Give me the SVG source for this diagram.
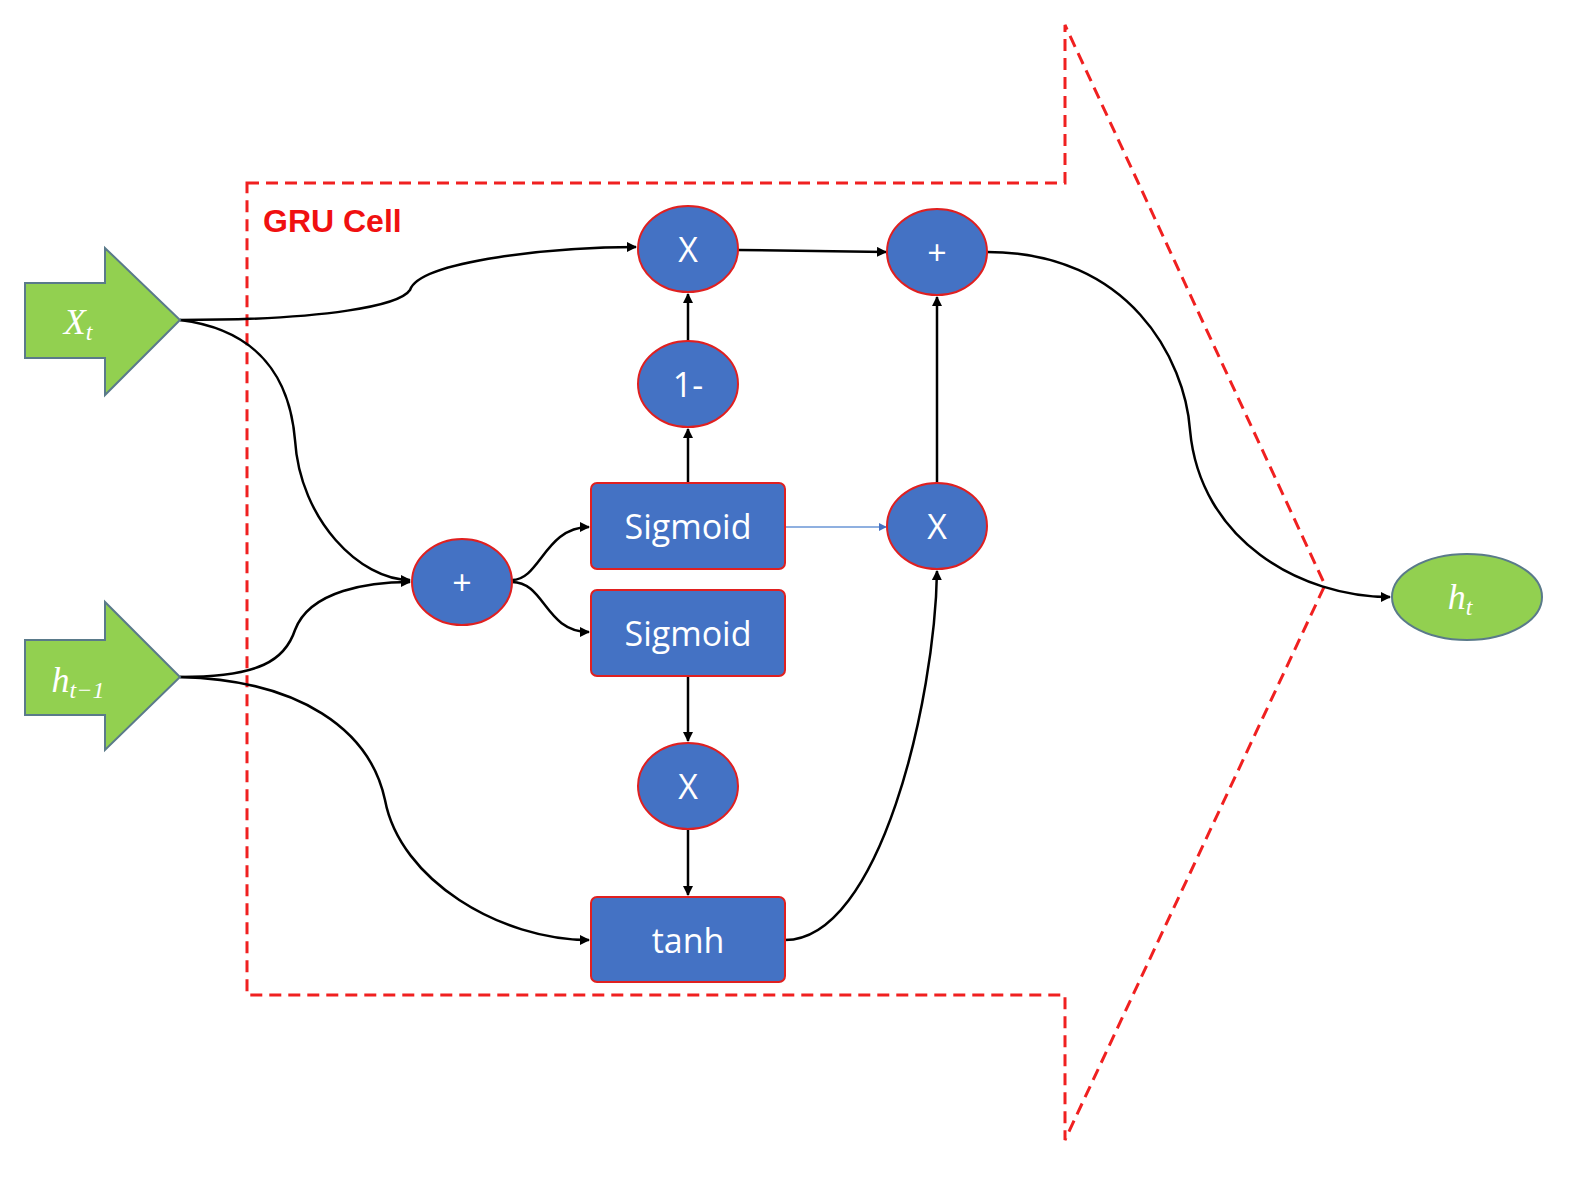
<svg xmlns="http://www.w3.org/2000/svg" width="1588" height="1178" viewBox="0 0 1588 1178">
<style>
.n{fill:#4472C4;stroke:#e02020;stroke-width:2}
.g{fill:#92D050;stroke:#5a7a8a;stroke-width:2}
.t{fill:#fff;font-family:"Open Sans","DejaVu Sans",sans-serif;font-size:34px;text-anchor:middle;dominant-baseline:central}
.m{fill:#fff;font-family:"Liberation Serif",serif;font-style:italic;font-size:36px;text-anchor:middle;dominant-baseline:central}
.c{fill:none;stroke:#000;stroke-width:2.5;marker-end:url(#a)}
</style>
<defs><marker id="a" viewBox="0 0 10 10" refX="9" refY="5" markerWidth="4" markerHeight="4" orient="auto"><path d="M0,0L10,5L0,10z" fill="#000"/></marker>
<marker id="b" viewBox="0 0 10 10" refX="9" refY="5" markerWidth="4" markerHeight="4" orient="auto"><path d="M0,0L10,5L0,10z" fill="#4472C4"/></marker></defs>
<rect width="1588" height="1178" fill="#fff"/>
<g id="boundary"><path d="M247,183H1065V25L1325,585L1065,1140V995H247Z" fill="none" stroke="#f02020" stroke-width="3" stroke-dasharray="12,7"/>
<text x="263" y="232" font-family="Liberation Sans,Arial,sans-serif" font-weight="bold" font-size="32" fill="#f01010">GRU Cell</text></g>
<g id="connectors">
<path class="c" d="M180,320C330,320 400,305 410,290C420,260 560,247 636,247"/>
<path class="c" d="M180,320C260,330 290,380 295,440C300,520 360,580 410,580"/>
<path class="c" d="M180,677C260,677 285,660 295,630C310,590 370,582 410,582"/>
<path class="c" d="M180,677C300,680 370,730 385,800C400,880 500,940 589,940"/>
<path class="c" d="M512,580C540,580 545,527 589,527"/>
<path class="c" d="M512,582C545,582 545,632 589,632"/>
<path class="c" d="M688,483V429"/>
<path class="c" d="M688,341V294"/>
<path class="c" d="M738,250L886,252"/>
<path class="c" d="M937,483V297"/>
<path d="M785,527H886" fill="none" stroke="#8fb0e0" stroke-width="2" marker-end="url(#b)"/>
<path class="c" d="M688,676V741"/>
<path class="c" d="M688,829V895"/>
<path class="c" d="M785,940C880,940 935,700 937,571"/>
<path class="c" d="M987,252C1130,252 1185,360 1190,430C1200,540 1300,597 1390,597"/>
</g>
<g id="xt"><path class="g" d="M25,283H105V248L180,320L105,395V358H25Z"/><text class="m" x="78" y="322">X<tspan font-size="24" dy="10">t</tspan></text></g>
<g id="ht1"><path class="g" d="M25,640H105V602L180,677L105,750V715H25Z"/><text class="m" x="78" y="680">h<tspan font-size="24" dy="10">t−1</tspan></text></g>
<g id="mulTop"><ellipse class="n" cx="688" cy="249" rx="50" ry="43"/><text class="t" x="688" y="249">X</text></g>
<g id="addTop"><ellipse class="n" cx="937" cy="252" rx="50" ry="43"/><text class="t" x="937" y="252" font-size="26">+</text></g>
<g id="oneMinus"><ellipse class="n" cx="688" cy="384" rx="50" ry="43"/><text class="t" x="688" y="384">1-</text></g>
<g id="mulMid"><ellipse class="n" cx="937" cy="526" rx="50" ry="43"/><text class="t" x="937" y="526">X</text></g>
<g id="addLeft"><ellipse class="n" cx="462" cy="582" rx="50" ry="43"/><text class="t" x="462" y="582" font-size="26">+</text></g>
<g id="mulBot"><ellipse class="n" cx="688" cy="786" rx="50" ry="43"/><text class="t" x="688" y="786">X</text></g>
<g id="sig1"><rect class="n" x="591" y="483" width="194" height="86" rx="6"/><text class="t" x="688" y="526">Sigmoid</text></g>
<g id="sig2"><rect class="n" x="591" y="590" width="194" height="86" rx="6"/><text class="t" x="688" y="633">Sigmoid</text></g>
<g id="tanh"><rect class="n" x="591" y="897" width="194" height="85" rx="6"/><text class="t" x="688" y="940">tanh</text></g>
<g id="htOut"><ellipse class="g" cx="1467" cy="597" rx="75" ry="43"/><text class="m" x="1460" y="597">h<tspan font-size="24" dy="10">t</tspan></text></g>
</svg>
